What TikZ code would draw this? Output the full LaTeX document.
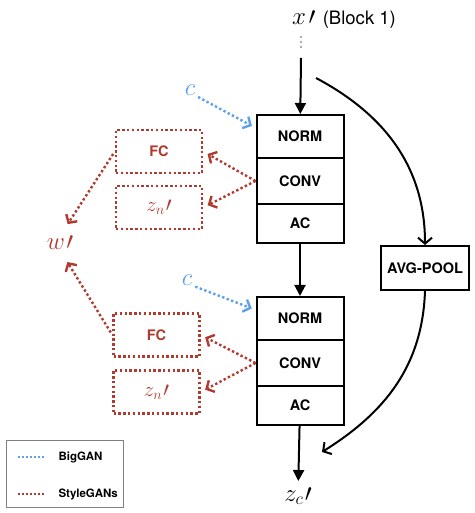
\documentclass[tikz,border=0pt]{standalone}
\usepackage{fontspec}
\setsansfont{TeX Gyre Heros}
\usetikzlibrary{arrows.meta}
\definecolor{biggan}{HTML}{5EA1E8}
\definecolor{stylegan}{HTML}{B03A2E}
\begin{document}
\begin{tikzpicture}[x=1pt,y=1pt,
	layer/.style={draw,line width=2pt,minimum width=87pt,inner sep=0pt,font=\sffamily\bfseries\fontsize{14.5}{14.5}\selectfont},
	sganbox/.style={draw=stylegan,text=stylegan,line width=2.4pt,dash pattern=on 2.4pt off 2.4pt,minimum width=86pt,minimum height=43pt,inner sep=0pt},
	main/.style={line width=2pt,-{Triangle[length=11pt,width=11pt]}},
	skip/.style={line width=2pt,-{Straight Barb[length=6pt,width=14pt,line width=2pt]}},
	biglink/.style={biggan,line width=2.4pt,dash pattern=on 2.4pt off 2.4pt},
	sganlink/.style={stylegan,line width=2.4pt,dash pattern=on 2.4pt off 2.4pt},
	tip/.style={-{Straight Barb[length=6pt,width=13pt,line width=2.4pt]}},
	lbl/.style={font=\fontsize{23}{23}\selectfont,inner sep=0pt}]
	\useasboundingbox (0,0) rectangle (474,513);
	% input
	\node at (344,493) (title) {\fontsize{24}{24}\selectfont$x\mkern2mu\prime$\ \sffamily\fontsize{18.5}{20}\selectfont(Block 1)};
	\foreach \y in {476,471,466}
		\fill[gray!70!black] (301,\y) circle (0.8pt);
	\coordinate (in1) at (301,455);
	\coordinate (split) at (316,435);
	% block 1
	\node[layer,minimum height=43pt] at (300,376.5) (norm1) {NORM};
	\node[layer,minimum height=46pt] at (300,332) (conv1) {CONV};
	\node[layer,minimum height=39pt] at (300,289.5) (ac1) {AC};
	% block 2
	\node[layer,minimum height=43pt] at (300,194.5) (norm2) {NORM};
	\node[layer,minimum height=46pt] at (300,150) (conv2) {CONV};
	\node[layer,minimum height=39pt] at (300,107.5) (ac2) {AC};
	% skip path
	\node[layer,minimum width=88pt,minimum height=44pt] at (425,245) (avg) {AVG-POOL};
	\coordinate (merge) at (322,61);
	\node[lbl] at (298,17) (zc) {$z_c\mkern1mu\prime$};
	\draw[main] (in1)--(norm1);
	\draw[main] (ac1)--(norm2);
	\draw[main,shorten >=6pt] (ac2)--(zc);
	\draw[skip] (split) to[out=-28,in=90] (avg.north);
	\draw[skip] (avg.south) to[out=-92,in=32] (merge);
	% conditioning, BigGAN
	\node[lbl,text=biggan] at (190,423) (c1) {$c$};
	\node[lbl,text=biggan] at (187,233) (c2) {$c$};
	\draw[biglink,tip,shorten <=3pt,shorten >=4pt] (c1.south east)--(norm1.169);
	\draw[biglink,tip,shorten <=3pt,shorten >=4pt] (c2.south east)--(norm2.169);
	% conditioning, StyleGANs
	\node[sganbox,font=\sffamily\bfseries\fontsize{14.5}{14.5}\selectfont] at (159,361.5) (fc1) {FC};
	\node[sganbox,font=\fontsize{21}{21}\selectfont] at (159,305.5) (zn1) {$z_n\mkern1mu\prime$};
	\node[sganbox,font=\sffamily\bfseries\fontsize{14.5}{14.5}\selectfont] at (156.5,178) (fc2) {FC};
	\node[sganbox,font=\fontsize{21}{21}\selectfont] at (156.5,121) (zn2) {$z_n\mkern1mu\prime$};
	\node[lbl,text=stylegan] at (60,270) (w) {$w\mkern1mu\prime$};
	\draw[sganlink,tip,shorten >=5pt] (conv1.west)--(fc1.east);
	\draw[sganlink,tip,shorten >=5pt] (conv1.west)--(zn1.east);
	\draw[sganlink,tip,shorten >=5pt] (conv2.west)--(fc2.east);
	\draw[sganlink,tip,shorten >=5pt] (conv2.west)--(zn2.east);
	\draw[sganlink,tip,shorten <=3pt,shorten >=14pt] (fc1.west)--(w.north);
	\draw[sganlink,tip,shorten <=3pt,shorten >=14pt] (fc2.west)--(w.south);
	% legend
	\draw[gray,line width=1pt] (6,5) rectangle (123,72);
	\coordinate (lg1) at (18,56);
	\coordinate (lg2) at (45,56);
	\coordinate (lg3) at (18,19);
	\coordinate (lg4) at (45,19);
	\draw[biglink,line width=1.8pt,dash pattern=on 1.8pt off 2.2pt] (lg1)--(lg2);
	\draw[sganlink,line width=1.8pt,dash pattern=on 1.8pt off 2.2pt] (lg3)--(lg4);
	\node[anchor=west,font=\sffamily\bfseries\fontsize{11.5}{12}\selectfont] at (55,56) (bg) {BigGAN};
	\node[anchor=west,font=\sffamily\bfseries\fontsize{11.5}{12}\selectfont] at (55,19) (sg) {StyleGANs};
\end{tikzpicture}
\end{document}
